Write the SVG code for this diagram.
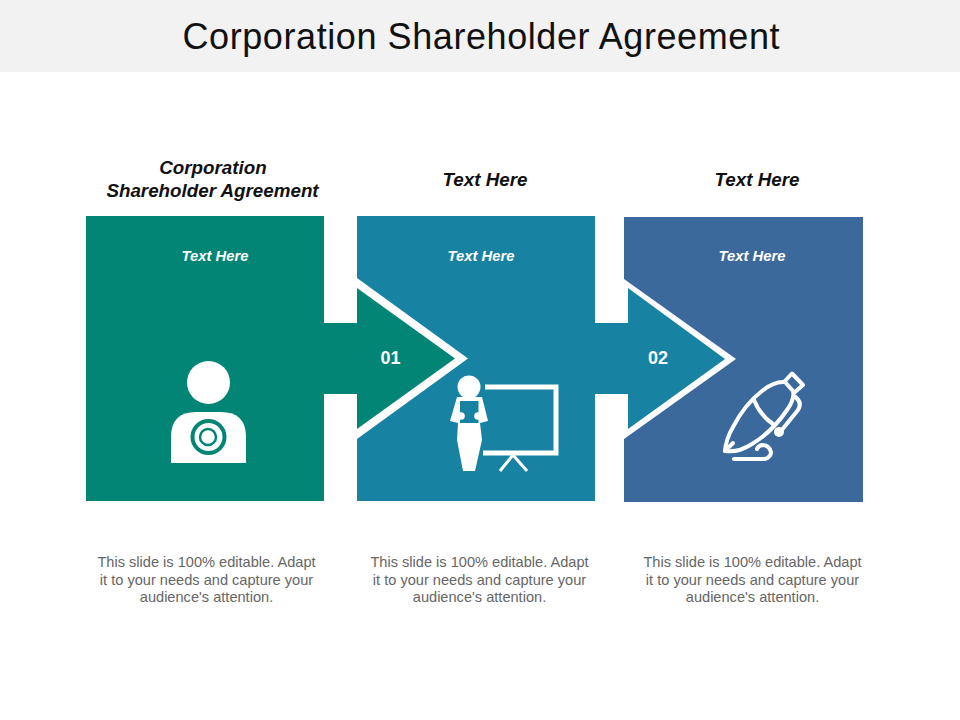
<svg xmlns="http://www.w3.org/2000/svg" width="960" height="720" viewBox="0 0 960 720">
<style>
text{font-family:"Liberation Sans",Arial,sans-serif}
.h{font-size:18.800px;font-weight:bold;font-style:italic;fill:#111;text-anchor:middle}
.s{font-size:14.800px;font-weight:bold;font-style:italic;fill:#fff;text-anchor:middle}
.b{font-size:14.600px;fill:#666;text-anchor:middle}
.n{font-size:18px;font-weight:bold;fill:#fff;text-anchor:middle}
.w{fill:#fff}
.ln{fill:none;stroke:#fff;stroke-width:4;stroke-linecap:round;stroke-linejoin:round}
</style>
<rect width="960" height="720" fill="#fff"/>
<g id="title"><rect width="960" height="72" fill="#f2f2f2"/>
<text x="481" y="49" font-size="36" fill="#111" text-anchor="middle" textLength="597">Corporation Shareholder Agreement</text></g>
<g id="node-1">
<rect x="86" y="216" width="238" height="285" fill="#038575"/>
<text class="h"><tspan x="213" y="174">Corporation</tspan><tspan x="212.500" y="197">Shareholder Agreement</tspan></text>
<text class="s" x="215" y="261">Text Here</text>
<circle class="w" cx="208.500" cy="382.500" r="21.500"/>
<path class="w" d="M171 463V437Q171 412 196 412H221Q246 412 246 437V463Z"/>
<circle cx="208.500" cy="437" r="16" fill="none" stroke="#038575" stroke-width="4"/>
<circle cx="208" cy="437" r="8" fill="none" stroke="#038575" stroke-width="2.500"/>
<text class="b"><tspan x="206.500" y="567">This slide is 100% editable. Adapt</tspan><tspan x="206.500" y="585">it to your needs and capture your</tspan><tspan x="206.500" y="602">audience's attention.</tspan></text>
</g>
<g id="node-2">
<rect x="357" y="216" width="238" height="285" fill="#1782a2"/>
<text class="h" x="485" y="186">Text Here</text>
<text class="s" x="481" y="261">Text Here</text>
<circle class="w" cx="469" cy="387" r="11.500"/>
<path class="w" d="M457 397H482L488 421L480 423L482 440L475 471H463L457 440L458 423L450 421Z"/>
<path fill="#1782a2" d="M460 401H478.500V423H460Z"/>
<circle class="w" cx="461" cy="416" r="3.800"/>
<circle class="w" cx="478" cy="416" r="3.800"/>
<path fill="none" stroke="#fff" stroke-width="5" d="M485 387H556V453H483"/>
<path fill="none" stroke="#fff" stroke-width="3" d="M513 455L500 471M513 455L527 471"/>
<text class="b"><tspan x="479.500" y="567">This slide is 100% editable. Adapt</tspan><tspan x="479.500" y="585">it to your needs and capture your</tspan><tspan x="479.500" y="602">audience's attention.</tspan></text>
</g>
<g id="node-3">
<rect x="624" y="217" width="239" height="285" fill="#3c699c"/>
<text class="h" x="757" y="186">Text Here</text>
<text class="s" x="752" y="261">Text Here</text>
<g class="ln">
<path d="M725 451Q726 439 733 427Q745 404 762 391Q774 381 785 382L793 391Q795 399 787 410Q772 432 752 444Q738 453 725 451Z"/>
<path d="M754 400Q760 415 773 424"/>
<path d="M784 382L792 373.500L803 385L795 392"/>
<path d="M794 396Q803 402 798 410L781 431"/>
<path d="M734 459H765Q771 457 771 452Q769 445 762 445Q758 446 757 449"/>
<path d="M725 451L733 443"/>
</g>
<circle class="w" cx="779" cy="432" r="5"/>
<text class="b"><tspan x="752.500" y="567">This slide is 100% editable. Adapt</tspan><tspan x="752.500" y="585">it to your needs and capture your</tspan><tspan x="752.500" y="602">audience's attention.</tspan></text>
</g>
<g id="connectors">
<path id="arrow-1-border" class="w" d="M324 216H357V278L468 358.500L357 439V501H324Z"/>
<path id="arrow-1" fill="#038575" d="M324 323H357V288L455 358.500L357 429V394H324Z"/>
<path id="arrow-2-border" class="w" d="M595 216H624V279L736 359L624 439V502H595Z"/>
<path id="arrow-2" fill="#1782a2" d="M595 323H628V288L725 359L628 429V394H595Z"/>
<text class="n" x="390.500" y="364">01</text>
<text class="n" x="658" y="364">02</text>
</g>
</svg>
